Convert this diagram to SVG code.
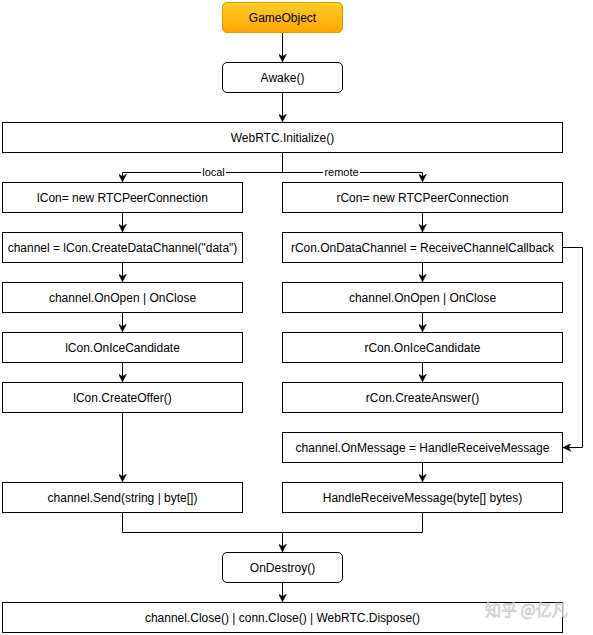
<svg xmlns="http://www.w3.org/2000/svg" width="593" height="635" viewBox="0 0 593 635">
<style>
.box{fill:#ffffff;stroke:#000000;stroke-width:1}
.t{font-family:"Liberation Sans",Arial,Helvetica,sans-serif;font-size:12px;fill:#000000;text-anchor:middle}
.lbl{font-family:"Liberation Sans",Arial,Helvetica,sans-serif;font-size:11px;fill:#000000;text-anchor:middle}
.e{fill:none;stroke:#000000;stroke-width:1}
</style>
<defs>
<linearGradient id="og" x1="0" y1="0" x2="0" y2="1">
<stop offset="0" stop-color="#ffcd28"/>
<stop offset="1" stop-color="#ffa500"/>
</linearGradient>
<marker id="arr" viewBox="0 0 10 10" refX="10" refY="5" markerWidth="8" markerHeight="8" markerUnits="userSpaceOnUse" orient="auto">
<path d="M0,0 L10,5 L0,10 L3,5 Z" fill="#000000" stroke="#000000" stroke-width="0.5"/>
</marker>
</defs>
<rect width="593" height="635" fill="#ffffff"/>
<g id="connectors">
<path class="e" d="M282.5,33 V62" marker-end="url(#arr)"/>
<path class="e" d="M282.5,92.5 V122" marker-end="url(#arr)"/>
<path class="e" d="M282.5,152.5 V172.5 H122.5 V182" marker-end="url(#arr)"/>
<path class="e" d="M282.5,172.5 H422.5 V182" marker-end="url(#arr)"/>
<rect x="201" y="166" width="25" height="12" fill="#ffffff"/>
<text class="lbl" x="213.5" y="176">local</text>
<rect x="323" y="166" width="37" height="12" fill="#ffffff"/>
<text class="lbl" x="341.5" y="176">remote</text>
<path class="e" d="M122.5,212.5 V232" marker-end="url(#arr)"/>
<path class="e" d="M122.5,262.5 V282" marker-end="url(#arr)"/>
<path class="e" d="M122.5,312.5 V332" marker-end="url(#arr)"/>
<path class="e" d="M122.5,362.5 V382" marker-end="url(#arr)"/>
<path class="e" d="M122.5,412.5 V482" marker-end="url(#arr)"/>
<path class="e" d="M422.5,212.5 V232" marker-end="url(#arr)"/>
<path class="e" d="M422.5,262.5 V282" marker-end="url(#arr)"/>
<path class="e" d="M422.5,312.5 V332" marker-end="url(#arr)"/>
<path class="e" d="M422.5,362.5 V382" marker-end="url(#arr)"/>
<path class="e" d="M422.5,462.5 V482" marker-end="url(#arr)"/>
<path class="e" d="M562.5,247.5 H582.5 V447.5 H563" marker-end="url(#arr)"/>
<path class="e" d="M122.5,512.5 V532.5 H282.5 V552" marker-end="url(#arr)"/>
<path class="e" d="M422.5,512.5 V532.5 H282.5"/>
<path class="e" d="M282.5,582.5 V602" marker-end="url(#arr)"/>
</g>
<g id="gameobject">
<rect x="222.5" y="2.5" width="120" height="30" rx="4.5" fill="url(#og)" stroke="#d79b00"/>
<text class="t" x="282.5" y="21.5">GameObject</text>
</g>
<g id="awake">
<rect class="box" x="222.5" y="62.5" width="120" height="30" rx="4.5"/>
<text class="t" x="282.5" y="81.5">Awake()</text>
</g>
<g id="initialize">
<rect class="box" x="2.5" y="122.5" width="560" height="30"/>
<text class="t" x="282.5" y="141.5">WebRTC.Initialize()</text>
</g>
<g id="lcon-new">
<rect class="box" x="2.5" y="182.5" width="240" height="30"/>
<text class="t" x="122.5" y="201.5">lCon= new RTCPeerConnection</text>
</g>
<g id="lcon-datachannel">
<rect class="box" x="2.5" y="232.5" width="240" height="30"/>
<text class="t" x="122.5" y="251.5">channel = lCon.CreateDataChannel("data")</text>
</g>
<g id="l-onopen">
<rect class="box" x="2.5" y="282.5" width="240" height="30"/>
<text class="t" x="122.5" y="301.5">channel.OnOpen | OnClose</text>
</g>
<g id="lcon-ice">
<rect class="box" x="2.5" y="332.5" width="240" height="30"/>
<text class="t" x="122.5" y="351.5">lCon.OnIceCandidate</text>
</g>
<g id="lcon-offer">
<rect class="box" x="2.5" y="382.5" width="240" height="30"/>
<text class="t" x="122.5" y="401.5">lCon.CreateOffer()</text>
</g>
<g id="send">
<rect class="box" x="2.5" y="482.5" width="240" height="30"/>
<text class="t" x="122.5" y="501.5">channel.Send(string | byte[])</text>
</g>
<g id="rcon-new">
<rect class="box" x="282.5" y="182.5" width="280" height="30"/>
<text class="t" x="422.5" y="201.5">rCon= new RTCPeerConnection</text>
</g>
<g id="rcon-ondatachannel">
<rect class="box" x="282.5" y="232.5" width="280" height="30"/>
<text class="t" x="422.5" y="251.5">rCon.OnDataChannel = ReceiveChannelCallback</text>
</g>
<g id="r-onopen">
<rect class="box" x="282.5" y="282.5" width="280" height="30"/>
<text class="t" x="422.5" y="301.5">channel.OnOpen | OnClose</text>
</g>
<g id="rcon-ice">
<rect class="box" x="282.5" y="332.5" width="280" height="30"/>
<text class="t" x="422.5" y="351.5">rCon.OnIceCandidate</text>
</g>
<g id="rcon-answer">
<rect class="box" x="282.5" y="382.5" width="280" height="30"/>
<text class="t" x="422.5" y="401.5">rCon.CreateAnswer()</text>
</g>
<g id="onmessage">
<rect class="box" x="282.5" y="432.5" width="280" height="30"/>
<text class="t" x="422.5" y="451.5">channel.OnMessage = HandleReceiveMessage</text>
</g>
<g id="handlereceive">
<rect class="box" x="282.5" y="482.5" width="280" height="30"/>
<text class="t" x="422.5" y="501.5">HandleReceiveMessage(byte[] bytes)</text>
</g>
<g id="ondestroy">
<rect class="box" x="222.5" y="552.5" width="120" height="30" rx="4.5"/>
<text class="t" x="282.5" y="571.5">OnDestroy()</text>
</g>
<g id="close">
<rect class="box" x="2.5" y="602.5" width="560" height="30"/>
<text class="t" x="282.5" y="621.5">channel.Close() | conn.Close() | WebRTC.Dispose()</text>
</g>
<text x="485" y="616" font-family="'Noto Sans CJK SC',sans-serif" font-size="16" fill="#e8e8e8" stroke="#bdbdbd" stroke-width="0.5">知乎 @亿凡</text>
</svg>
